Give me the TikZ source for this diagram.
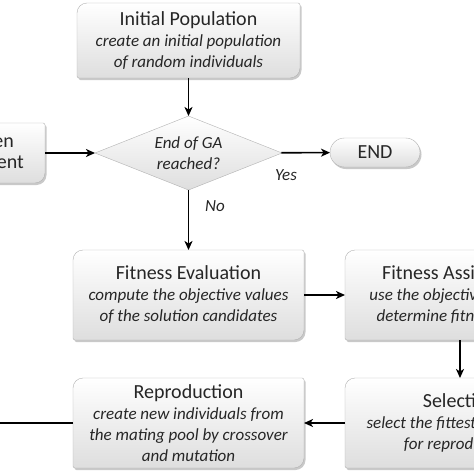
\documentclass[tikz,border=0pt]{standalone}
\usepackage{fontspec}
\setmainfont{Carlito}
\usetikzlibrary{shapes.geometric,shapes.misc,arrows.meta,shadows,backgrounds}

\newcommand{\boxtitle}{\fontsize{20}{21}\selectfont}
\newcommand{\boxtext}{\fontsize{17}{21}\selectfont\itshape}

\tikzstyle{box}=[minimum width=231,minimum height=90,inner sep=0pt,outer sep=0pt,align=center,font=\boxtitle,text=black!85]
\tikzstyle{frame}=[draw=black!30,top color=white,bottom color=black!13,drop shadow={shadow xshift=1.5pt,shadow yshift=-2pt,opacity=0.35,fill=black!60}]
\tikzstyle{flow}=[-{Stealth[length=9pt,width=8pt,inset=2.5pt]},line width=1.6pt]
\tikzstyle{lbl}=[font=\boxtext,text=black!85]

\begin{document}
\begin{tikzpicture}[x=1pt,y=-1pt]
  \clip (0,0) rectangle (474,474);
  \useasboundingbox (0,0) rectangle (474,474);

  \node[box,minimum width=223,minimum height=75] (init) at (188.5,40.5)
    {Initial Population\\ \boxtext create an initial population\\ \boxtext of random individuals};
  \node[diamond,aspect=2.5,minimum width=187,minimum height=74,inner sep=0pt,outer sep=0pt,
        draw=black!30,top color=white,bottom color=black!13,font=\boxtext,align=center,text=black!85]
    (dec) at (188.5,153) {End of GA\\reached?};
  \node[rounded rectangle,minimum width=90,minimum height=29,inner sep=0pt,outer sep=0pt,
        frame,font=\boxtitle,text=black!85] (endn) at (375,152.5) {END};
  \node[box,minimum width=140,minimum height=60] (repl) at (-25,153) {};
  \node[anchor=east,align=right,inner sep=0pt,font=\boxtitle,text=black!85] (repltxt) at (24,153)
    {en\hspace*{10pt}\\ent};

  \node[box] (feval) at (188.5,295)
    {Fitness Evaluation\\ \boxtext compute the objective values\\ \boxtext of the solution candidates};
  \node[box,minimum width=230] (fassign) at (460,295)
    {Fitness Assignment\\ \boxtext use the objective values to\\ \boxtext determine fitness values};
  \node[box,minimum width=230] (select) at (460,423)
    {Selection\\ \boxtext select the fittest individuals\\ \boxtext for reproduction};
  \node[box] (repro) at (188.5,423)
    {Reproduction\\ \boxtext create new individuals from\\ \boxtext the mating pool by crossover\\ \boxtext and mutation};
  \coordinate (back) at (-10,423);

  \node[lbl] (yes) at (286,175) {Yes};
  \node[lbl] (no) at (215,206) {No};

  \begin{scope}[on background layer]
    \fill[white] (0,0) rectangle (474,474);
    \foreach \n in {init,feval,fassign,select,repro,repl}
      \draw[frame] (\n.north) [rounded corners=2pt] -- (\n.north east) [rounded corners=10pt] -- (\n.south east)
        [rounded corners=2pt] -- (\n.south west) [rounded corners=10pt] -- (\n.north west) -- cycle;
  \end{scope}

  \path (init) edge [flow] (dec);
  \path (dec) edge [flow] (endn);
  \path (repl) edge [flow] (dec);
  \path (dec) edge [flow] (feval);
  \path (feval) edge [flow] (fassign);
  \path (fassign) edge [flow] (select);
  \path (select) edge [flow] (repro);
  \draw[line width=1.6pt] (repro) -- (back);
\end{tikzpicture}
\end{document}
